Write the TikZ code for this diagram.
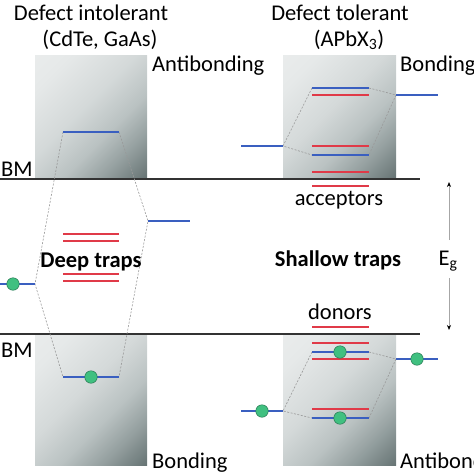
\documentclass[tikz,border=0pt]{standalone}
\usepackage{fontspec}
\setmainfont{Carlito}
\usetikzlibrary{arrows.meta}
\definecolor{lvblue}{HTML}{3A5FC0}
\definecolor{lvred}{HTML}{E03A48}
\definecolor{eball}{HTML}{40C080}
\definecolor{eballdraw}{HTML}{2A7A55}
\definecolor{shA}{HTML}{EEF0F0}
\definecolor{shB}{HTML}{E6E9E9}
\definecolor{shC}{HTML}{D4D9D9}
\definecolor{shD}{HTML}{BAC2C2}
\definecolor{shE}{HTML}{95A0A0}
\definecolor{shF}{HTML}{687575}
\pgfdeclarehorizontalshading{boxshade}{100bp}{color(0bp)=(shA); color(25bp)=(shB); color(45bp)=(shC); color(60bp)=(shD); color(72bp)=(shE); color(85bp)=(shF); color(100bp)=(shF)}
\tikzset{
  gbox/.style={shading=boxshade, shading angle=-45},
  blev/.style={draw=lvblue, line width=1.8pt},
  rlev/.style={draw=lvred, line width=1.5pt},
  bm/.style={draw=black!80, line width=1.3pt},
  dsh/.style={draw=gray!80, line width=0.6pt, dash pattern=on 2pt off 1.5pt},
  elec/.style={circle, fill=eball, draw=eballdraw, line width=0.5pt, minimum size=12.5pt, inner sep=0pt},
  lab/.style={font=\fontsize{22.5}{24}\selectfont, inner sep=0pt},
  blab/.style={font=\fontsize{22.5}{24}\selectfont\bfseries, inner sep=0pt},
}
\begin{document}
\begin{tikzpicture}[x=1pt,y=-1pt]
\useasboundingbox (0,0) rectangle (474,474);
\clip (0,0) rectangle (474,474);
% gray boxes
\shade[gbox] (35,55) rectangle (147,178);
\shade[gbox] (35,334) rectangle (147,465);
\shade[gbox] (283,55) rectangle (396,178);
\shade[gbox] (283,334) rectangle (396,465);
% band lines
\draw[bm] (0,179) -- (420,179);
\draw[bm] (0,334) -- (420,334);
% ---------- left column ----------
\coordinate (LTa) at (63,132); \coordinate (LTb) at (119,132);
\coordinate (LLa) at (0,284); \coordinate (LLb) at (35,284);
\coordinate (LRa) at (148,221); \coordinate (LRb) at (190,221);
\coordinate (LBa) at (63,377); \coordinate (LBb) at (119,377);
\draw[dsh] (LTa) -- (LLb) -- (LBa);
\draw[dsh] (LTb) -- (LRa) -- (LBb);
\draw[blev] (LTa) -- (LTb);
\draw[blev] (LLa) -- (LLb);
\draw[blev] (LRa) -- (LRb);
\draw[blev] (LBa) -- (LBb);
\foreach \y in {234,241,274,281} \draw[rlev] (63,\y) -- (119,\y);
\node[elec] (e1) at (13,284) {};
\node[elec] (e2) at (91,377) {};
% ---------- right column ----------
\coordinate (RTa) at (312,88); \coordinate (RTb) at (369,88);
\coordinate (RMa) at (312,155); \coordinate (RMb) at (369,155);
\coordinate (RLa) at (241,146); \coordinate (RLb) at (283,146);
\coordinate (RRa) at (396,95); \coordinate (RRb) at (438,95);
\draw[dsh] (RTa) -- (RLb) -- (RMa);
\draw[dsh] (RTb) -- (RRa) -- (RMb);
\draw[blev] (RTa) -- (RTb);
\draw[blev] (RMa) -- (RMb);
\draw[blev] (RLa) -- (RLb);
\draw[blev] (RRa) -- (RRb);
\foreach \y in {95,146,172,186} \draw[rlev] (312,\y) -- (369,\y);
\coordinate (SUa) at (312,352); \coordinate (SUb) at (369,352);
\coordinate (SDa) at (312,418); \coordinate (SDb) at (369,418);
\coordinate (SLa) at (241,411); \coordinate (SLb) at (283,411);
\coordinate (SRa) at (396,359); \coordinate (SRb) at (438,359);
\draw[dsh] (SUa) -- (SLb) -- (SDa);
\draw[dsh] (SUb) -- (SRa) -- (SDb);
\draw[blev] (SUa) -- (SUb);
\draw[blev] (SDa) -- (SDb);
\draw[blev] (SLa) -- (SLb);
\draw[blev] (SRa) -- (SRb);
\foreach \y in {327,343,359,409} \draw[rlev] (312,\y) -- (369,\y);
\node[elec] (e3) at (340,352) {};
\node[elec] (e4) at (340,418) {};
\node[elec] (e5) at (262,411) {};
\node[elec] (e6) at (417,359) {};
% ---------- Eg arrow ----------
\node[lab, anchor=base] (eg) at (448,265) {E\textsubscript{g}};
\coordinate (egt) at (449,182);
\coordinate (egb) at (449,330);
\draw[gray!70, line width=0.7pt, -{Stealth[length=5pt,width=4pt,color=black]}] (449,240) -- (egt);
\draw[gray!70, line width=0.7pt, -{Stealth[length=5pt,width=4pt,color=black]}] (449,278) -- (egb);
% ---------- labels ----------
\node[lab, anchor=base] (t1) at (91,20) {Defect intolerant};
\node[lab, anchor=base] (t2) at (100,46) {(CdTe, GaAs)};
\node[lab, anchor=base west] (ab1) at (152,71) {Antibonding};
\node[lab, anchor=base west] (bm1) at (1,176) {BM};
\node[lab, anchor=base west] (bm2) at (1,357) {BM};
\node[lab, anchor=base west] (bo1) at (152,468) {Bonding};
\node[blab, anchor=base] (dt) at (91,267) {Deep traps};
\node[lab, anchor=base] (t3) at (340,20) {Defect tolerant};
\node[lab, anchor=base] (t4) at (349,46) {(APbX\textsubscript{3})};
\node[lab, anchor=base west] (bo2) at (400,71) {Bonding};
\node[lab, anchor=base] (acc) at (339,205) {acceptors};
\node[blab, anchor=base] (st) at (338,266) {Shallow traps};
\node[lab, anchor=base] (don) at (340,319) {donors};
\node[lab, anchor=base west] (ab2) at (400,468) {Antibonding};
\end{tikzpicture}
\end{document}
